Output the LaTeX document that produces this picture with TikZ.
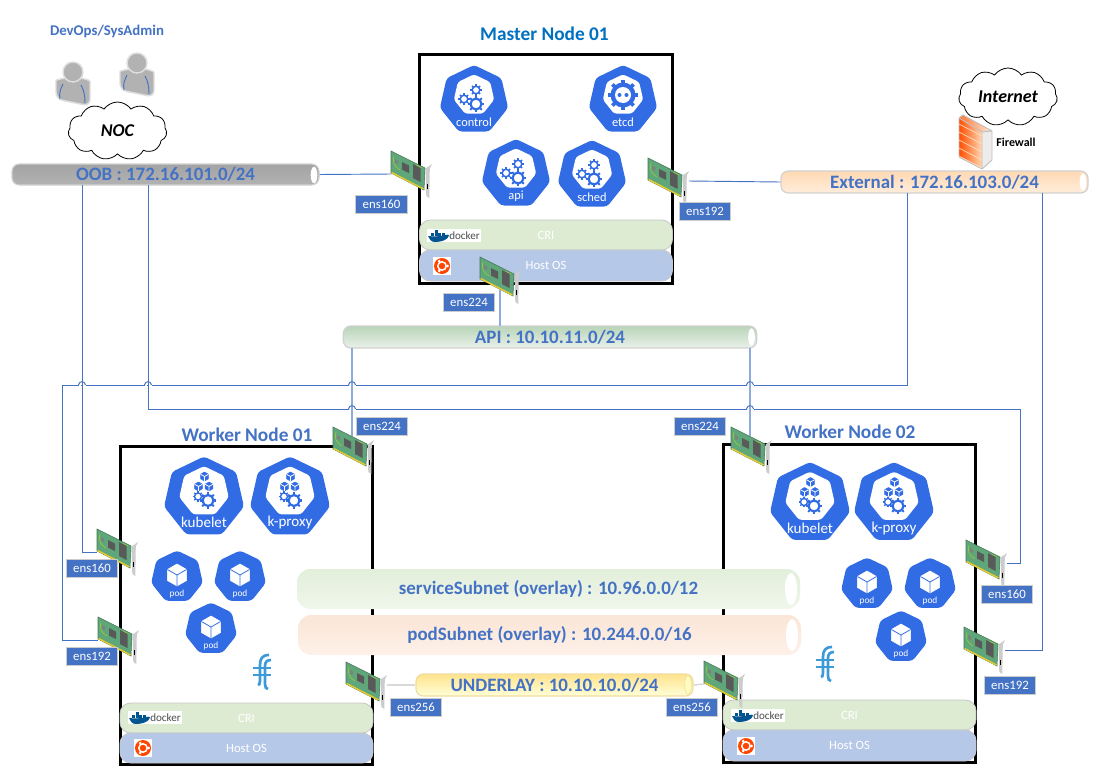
\documentclass[tikz,border=0pt]{standalone}
\usepackage{fontspec}
\setmainfont{Carlito}
\usetikzlibrary{shapes.geometric,shapes.symbols}
\definecolor{netblue}{HTML}{4472C4}
\definecolor{apiblue}{HTML}{8FAADC}
\definecolor{kubeblue}{HTML}{326CE5}
\definecolor{masterblue}{HTML}{0070C0}
\definecolor{flannelblue}{HTML}{3C9AD8}
\definecolor{cardgreen}{HTML}{5FA67A}
\definecolor{crigreen}{HTML}{DDEBD2}
\definecolor{servicetop}{HTML}{E2EFDA}
\definecolor{servicebot}{HTML}{F0F6EB}
\definecolor{podtop}{HTML}{FBE5D6}
\definecolor{podbot}{HTML}{FDF1E9}
\newcommand{\fsize}[1]{\fontsize{#1}{#1}\selectfont}
\newcommand{\kubecog}[3]{%
  \begin{scope}[shift={(#1,#2)}]
    \draw[kubeblue,line width=#3*0.3pt] (0,0) circle (#3);
    \foreach \a in {0,45,...,315}
      \draw[kubeblue,line width=#3*0.28pt] (\a:#3) -- (\a:#3*1.5);
  \end{scope}}
\newcommand{\kubecube}[5]{%
  \begin{scope}[shift={(#1,#2)}]
    \draw[fill=#4,draw=#4,line join=round,line width=0.4pt] (0,-#3) -- (0.87*#3,-0.5*#3) -- (0.87*#3,0.5*#3) -- (0,#3) -- (-0.87*#3,0.5*#3) -- (-0.87*#3,-0.5*#3) -- cycle;
    \draw[#5,line width=0.6pt] (-0.87*#3,-0.5*#3) -- (0,0) -- (0.87*#3,-0.5*#3) (0,0) -- (0,#3);
  \end{scope}}
\tikzset{
  every pic/.style={yscale=-1},
  hostbox/.style={draw=black,fill=white,line width=2.25pt,inner sep=0pt},
  titletext/.style={font=\bfseries\fsize{14.5},text=netblue,inner sep=0pt},
  layerbar/.style={draw=black!22,line width=0.6pt,rounded corners=8pt,inner sep=0pt,minimum width=189.75pt,text=white,font=\fsize{9.5}},
  pipe/.style={rounded corners=5.5pt,inner sep=0pt,line width=0.9pt,text=netblue,font=\bfseries\fsize{14.2}},
  pipeend/.style={ellipse,fill=white,inner sep=0pt},
  enstag/.style={fill=netblue,draw=black!20,line width=0.6pt,inner sep=0pt,minimum width=38.5pt,minimum height=13.5pt,text=white,font=\fsize{9.6}},
  wire/.style={netblue,line width=0.7pt},
  apiwire/.style={apiblue,line width=1.1pt},
  underwire/.style={black!15,line width=1.2pt},
  netcloud/.style={cloud,cloud puffs=11,cloud puff arc=110,cloud ignores aspect,draw=black,fill=white,line width=0.6pt,inner sep=0pt,minimum width=74pt,minimum height=43.5pt,font=\bfseries\itshape\fsize{13.5}},
  kubehept/.style={regular polygon,regular polygon sides=7,fill=kubeblue,rounded corners=2.5pt,inner sep=0pt},
  kubeinner/.style={regular polygon,regular polygon sides=7,fill=white,rounded corners=2pt,inner sep=0pt},
  kubelabel/.style={text=white,inner sep=0pt},
  pics/niccard/.style={code={
    \fill[fill=black!20] (34.5,17.5) -- (41,13) -- (38.8,17.5) -- (38.3,47) -- (35.3,45) -- cycle;
    \fill[black] (36.2,33) rectangle (37.2,37.5);
    \draw[fill=cardgreen,draw=cardgreen!70!black,line width=0.4pt] (0,0) -- (34,17) -- (33,39) -- (0,22) -- cycle;
    \draw[yellow!60!brown,line width=1.1pt] (0.5,21.5) -- (32.5,38);
    \draw[yellow!70!green,line width=0.3pt] (3,5) .. controls (1,10) and (3,16) .. (9,19) (25,14) -- (31,17);
    \fill[black!65] (11,11) -- (18,14.5) -- (18,22) -- (11,18.5) -- cycle;
    \fill[black!65] (22,13) -- (29.5,17) -- (29.5,31) -- (22,27) -- cycle;
    \fill[black!50] (4,8) -- (7,9.5) -- (7,13) -- (4,11.5) -- cycle;
    \coordinate (-left) at (0,23);
    \coordinate (-right) at (41,23);
    \coordinate (-top) at (19,9);
    \coordinate (-bottom) at (20,33);
  }},
  pics/person/.style={code={
    \draw[fill=black!30,draw=black!13,line width=1.1pt,rounded corners=5pt] (-17,27) -- (-17,15) .. controls (-17,8) and (-9,6) .. (0,6) .. controls (9,6) and (17,8) .. (17,16) -- (17,34) -- cycle;
    \draw[netblue,line width=0.7pt] (-10,12) .. controls (-13,18) and (-14,22) .. (-13,27) (8,13) .. controls (11,18) and (12,24) .. (12,31);
    \draw[fill=black!30,draw=black!13,line width=1.1pt] (0,0) circle (10);
  }},
  pics/flannel/.style={code={
    \draw[flannelblue,line width=2pt] (7,-17) .. controls (0,-17) and (-2,-13) .. (-2,-7) -- (-2,9) .. controls (-2,12) and (-3,13) .. (-4,13);
    \draw[flannelblue,line width=2pt] (9,-12) .. controls (5,-12) and (3,-10) .. (3,-6) -- (3,12) .. controls (3,15) and (4,17) .. (6,17);
    \draw[flannelblue,line width=2pt] (-9,-4) -- (9,-4) (-9,3) -- (9,3);
  }},
  pics/dockerlogo/.style={code={
    \fill[white] (0,0) rectangle (54,13);
    \fill[masterblue!75!black] (1,7) .. controls (8,8) and (14,7) .. (18,6) .. controls (21,5) and (22,6) .. (22,6.5) .. controls (21,11) and (14,13) .. (8,13) .. controls (4,13) and (2,10) .. (1,7) -- cycle;
    \foreach \bx/\by in {4/4,7.5/4,11/4,14.5/4,7.5/1}
      \fill[masterblue!75!black] (\bx,\by) rectangle (\bx+3,\by+2.6);
    \node[text=black!70,inner sep=0pt,font=\fsize{8.3}] (-text) at (37.5,6.3) {docker};
  }},
  pics/ubuntulogo/.style={code={
    \fill[white] (-9,-9) rectangle (9,9);
    \fill[orange!55!red] (0,0) circle (8);
    \draw[white,line width=1.1pt] (0,0) circle (4.2);
    \foreach \a in {0,120,240}
      \fill[white] (\a:5.6) circle (1.5);
  }},
  pics/kubegears/.style={code={
    \node[kubehept,minimum size=52.5pt] (-shape) at (0,0) {};
    \node[kubeinner,minimum size=31pt] (-inner) at (0,-5) {};
    \kubecog{2}{4}{5.5}
    \kubecog{-10}{-1}{3.8}
    \kubecog{2}{-10}{3.8}
    \node[kubelabel,font=\fsize{9.3}] (-label) at (0,22) {#1};
  }},
  pics/kubeetcd/.style={code={
    \node[kubehept,minimum size=52.5pt] (-shape) at (0,0) {};
    \node[kubeinner,minimum size=31pt] (-inner) at (0,-5) {};
    \kubecog{0}{-5}{10}
    \fill[kubeblue] (0,-5) circle (12.5);
    \fill[white] (0,-5) circle (8);
    \fill[kubeblue] (-3.5,-5) circle (2) (3.5,-5) circle (2);
    \node[kubelabel,font=\fsize{9.3}] (-label) at (0,22) {#1};
  }},
  pics/kubeworker/.style={code={
    \node[kubehept,minimum size=61.5pt] (-shape) at (0,0) {};
    \node[kubeinner,minimum size=38pt] (-inner) at (0,-6) {};
    \kubecube{0.5}{-21}{4.5}{kubeblue}{white}
    \kubecube{-5.5}{-11}{4.5}{kubeblue}{white}
    \kubecube{5}{-11}{4.5}{kubeblue}{white}
    \kubecog{-6}{-1}{3.5}
    \kubecog{4}{3}{5.5}
    \node[kubelabel,font=\fsize{11.3}] (-label) at (0,25) {#1};
  }},
  pics/kubepod/.style={code={
    \node[kubehept,minimum size=39.75pt] (-shape) at (0,0) {};
    \kubecube{0}{-2}{11}{white}{kubeblue}
    \node[kubelabel,font=\fsize{7}] (-label) at (0,17) {pod};
  }},
}
\begin{document}
\begin{tikzpicture}[x=0.75pt,y=0.75pt,yscale=-1,xscale=1]
	\useasboundingbox (0,0) rectangle (1095,782);
	% hosts
	\node[hostbox,minimum width=189.75pt,minimum height=171.75pt] (masterbox) at (545.5,168.5) {};
	\node[hostbox,minimum width=189pt,minimum height=238.5pt] (workerboxA) at (246.5,605) {};
	\node[hostbox,minimum width=189pt,minimum height=238.5pt] (workerboxB) at (849.5,603) {};
	\node[titletext,text=masterblue] (mastertitle) at (544.5,34) {Master Node 01};
	\node[titletext] (workertitleA) at (247,435) {Worker Node 01};
	\node[titletext] (workertitleB) at (850,432) {Worker Node 02};
	\node[titletext,font=\bfseries\fsize{11.1}] (opstitle) at (107,31.5) {DevOps/SysAdmin};
	% layers
	\node[layerbar,fill=crigreen,minimum height=22.5pt] (criM) at (546,235) {CRI};
	\node[layerbar,fill=apiblue!65,minimum height=23.25pt] (osM) at (546,265.5) {Host OS};
	\node[layerbar,fill=crigreen,minimum height=22.5pt] (criA) at (246.5,718) {CRI};
	\node[layerbar,fill=apiblue!65,minimum height=22.5pt] (osA) at (246.5,748) {Host OS};
	\node[layerbar,fill=crigreen,minimum height=22.5pt] (criB) at (849.5,715) {CRI};
	\node[layerbar,fill=apiblue!65,minimum height=23.25pt] (osB) at (849.5,745.5) {Host OS};
	\pic (dockerM) at (427,229) {dockerlogo};
	\pic (dockerA) at (128,711) {dockerlogo};
	\pic (dockerB) at (731,709) {dockerlogo};
	\pic (ubuntuM) at (442,266) {ubuntulogo};
	\pic (ubuntuA) at (143,748) {ubuntulogo};
	\pic (ubuntuB) at (746,746) {ubuntulogo};
	% kubernetes parts
	\pic (control) at (474,100) {kubegears=control};
	\pic (etcd) at (623,100) {kubeetcd=etcd};
	\pic (api) at (516,174) {kubegears=api};
	\pic (sched) at (592,175) {kubegears=sched};
	\pic (kubeletA) at (204,497.5) {kubeworker=kubelet};
	\pic (proxyA) at (290,497.5) {kubeworker=k-proxy};
	\pic (kubeletB) at (810,503) {kubeworker=kubelet};
	\pic (proxyB) at (894,503) {kubeworker=k-proxy};
	\pic (podAa) at (177,577) {kubepod};
	\pic (podAb) at (240,577) {kubepod};
	\pic (podAc) at (211,629) {kubepod};
	\pic (podBa) at (867,584) {kubepod};
	\pic (podBb) at (930,584) {kubepod};
	\pic (podBc) at (901,637) {kubepod};
	\pic (flannelA) at (262,672) {flannel};
	\pic (flannelB) at (825,664) {flannel};
	% networks
	\node[pipe,draw=black!18,top color=black!36,bottom color=black!30,minimum width=230.25pt,minimum height=15.75pt] (oob) at (165.5,174.5) {OOB : 172.16.101.0/24};
	\node[pipe,draw=black!18,top color=orange!30,bottom color=orange!14,minimum width=230.25pt,minimum height=16.5pt] (external) at (934.5,182) {External : 172.16.103.0/24};
	\node[pipe,draw=black!18,top color=green!40!black!28!white,bottom color=green!30!black!8!white,minimum width=310pt,minimum height=16.5pt] (apinet) at (550,337) {API : 10.10.11.0/24};
	\node[pipe,rounded corners=10pt,top color=servicetop,bottom color=servicebot,minimum width=377.25pt,minimum height=30pt] (service) at (548.5,589) {serviceSubnet (overlay) : 10.96.0.0/12};
	\node[pipe,rounded corners=10pt,top color=podtop,bottom color=podbot,minimum width=377.25pt,minimum height=30pt] (podnet) at (549.5,635) {podSubnet (overlay) : 10.244.0.0/16};
	\node[pipe,draw=yellow!40!brown!45!white,top color=yellow!50!orange!45,bottom color=yellow!15,minimum width=207.75pt,minimum height=16.5pt] (underlay) at (554.5,685) {UNDERLAY : 10.10.10.0/24};
	\node[pipeend,minimum width=5pt,minimum height=12.5pt] (oobend) at (314,175) {};
	\node[pipeend,minimum width=5pt,minimum height=13pt] (externalend) at (1083,182) {};
	\node[pipeend,minimum width=5pt,minimum height=13pt] (apinetend) at (751.5,337) {};
	\node[pipeend,minimum width=9pt,minimum height=24pt] (serviceend) at (791,589) {};
	\node[pipeend,minimum width=9pt,minimum height=24pt] (podnetend) at (792,635) {};
	\node[pipeend,fill=yellow!25,draw=yellow!40!brown!45!white,minimum width=5pt,minimum height=14pt] (underlayend) at (688,685) {};
	\coordinate (ooba) at (82,185);
	\coordinate (oobb) at (148,185);
	\coordinate (externala) at (907,193);
	\coordinate (externalb) at (1042,193);
	\coordinate (apinettop) at (500,326);
	\coordinate (apinetl) at (352,348);
	\coordinate (apinetr) at (750,348);
	\coordinate (turna) at (1020,409);
	\coordinate (turnb) at (62,385);
	% nics
	\pic (nicMl) at (391,151) {niccard};
	\pic (nicMr) at (648,158) {niccard};
	\pic (nicMb) at (480,257) {niccard};
	\pic (nicAt) at (333,427) {niccard};
	\pic (nicAa) at (97,529) {niccard};
	\pic (nicAb) at (98,617) {niccard};
	\pic (nicAr) at (346,662) {niccard};
	\pic (nicBt) at (731,427) {niccard};
	\pic (nicBa) at (966,540) {niccard};
	\pic (nicBb) at (964,627) {niccard};
	\pic (nicBl) at (704,661) {niccard};
	% links
	\draw[wire] (oob.east) -- (nicMl-left);
	\draw[wire] (external.west) -- (nicMr-right);
	\draw[wire] (ooba) |- (nicAa-left);
	\draw[wire] (oobb) |- (turna) |- (nicBa-right);
	\draw[wire] (externala) |- (turnb) |- (nicAb-left);
	\draw[wire] (externalb) |- (nicBb-right);
	\draw[apiwire] (nicMb-bottom) -- (apinettop);
	\draw[apiwire] (apinetl) -- (nicAt-top);
	\draw[apiwire] (apinetr) -- (nicBt-top);
	\draw[underwire] (nicAr-right) -- (underlay.west);
	\draw[underwire] (underlay.east) -- (nicBl-left);
	\foreach \hx/\hy in {82/385,148/385,352/385,750/385,352/409,750/409} {
		\draw[white,line width=1.4pt] (\hx-3.5,\hy) -- (\hx-1.2,\hy) (\hx+1.2,\hy) -- (\hx+3.5,\hy);
		\draw[wire] (\hx-3.5,\hy) .. controls (\hx-3,\hy-4.5) and (\hx+3,\hy-4.5) .. (\hx+3.5,\hy);
	}
	% tags
	\node[enstag] (tagMl) at (381.5,204.5) {ens160};
	\node[enstag] (tagMr) at (705,211) {ens192};
	\node[enstag] (tagMb) at (469,302) {ens224};
	\node[enstag] (tagAt) at (382,426.5) {ens224};
	\node[enstag] (tagBt) at (700,426.5) {ens224};
	\node[enstag] (tagAa) at (92,568) {ens160};
	\node[enstag] (tagAb) at (92,656) {ens192};
	\node[enstag] (tagAr) at (416,707) {ens256};
	\node[enstag] (tagBl) at (692,707) {ens256};
	\node[enstag] (tagBa) at (1007,594) {ens160};
	\node[enstag] (tagBb) at (1010,685) {ens192};
	% outside world
	\pic (personA) at (73,72) {person};
	\pic (personB) at (137,63) {person};
	\node[netcloud] (noc) at (117.5,131) {NOC};
	\node[netcloud] (internet) at (1008,97) {Internet};
	\path[left color=orange!60!red,right color=orange!30!white] (959,118) -- (982,132) -- (982,169) -- (959,157) -- cycle;
	\path[left color=orange!65!red!80,right color=orange!15!white] (959,118) -- (963,115) -- (992,131) -- (982,132) -- cycle;
	\path[fill=orange!10!black!8!white] (982,132) -- (992,131) -- (992,160) -- (982,169) -- cycle;
	\draw[black!25,line width=0.7pt,line join=round] (959,118) -- (963,115) -- (992,131) -- (992,160) -- (982,169) -- (959,157) -- cycle (959,118) -- (982,132) -- (982,169) (982,132) -- (992,131);
	\foreach \by in {126,134,142,150,158}
		\draw[orange!25!white,line width=0.5pt] (959,\by-2) -- (982,\by+10);
	\node[inner sep=0pt,font=\bfseries\fsize{9}] (firewall) at (1016,142) {Firewall};
\end{tikzpicture}
\end{document}
